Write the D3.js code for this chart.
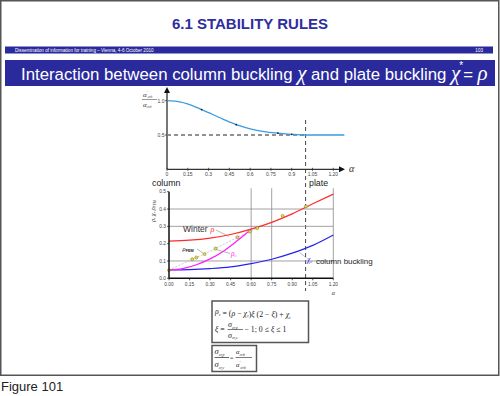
<!DOCTYPE html>
<html><head><meta charset="utf-8">
<script src="https://cdn.jsdelivr.net/npm/d3@7"></script>
<style>body{margin:0;background:#fff}svg{display:block}</style>
</head><body>
<script>
// ---- data ----
const topAlpha = [0,0.1,0.2,0.3,0.4,0.5,0.6,0.7,0.8,0.9,1.0,1.1,1.2,1.28];
const topRatio = [1.0,0.98,0.915,0.825,0.735,0.65,0.59,0.55,0.527,0.51,0.5,0.5,0.5,0.5];
const topDotAlpha = [0.25,0.5,0.8,0.9];
const topXTicks = [0,0.15,0.3,0.45,0.6,0.75,0.9,1.05,1.2];
const topXTickLabels = ["0","0.15","0.3","0.45","0.6","0.75","0.9","1.05","1.20"];
const topYTicks = [0.5,1.0];
const topYTickLabels = ["0.5","1.0"];

const botAlpha = [0,0.15,0.3,0.45,0.6,0.75,0.9,1.05,1.2];
const winterRho = [0.215,0.22,0.232,0.253,0.284,0.323,0.372,0.43,0.486];
const chiC = [0.048,0.05,0.056,0.066,0.085,0.11,0.145,0.19,0.25];
const rhoCAlpha = [0,0.1,0.2,0.3,0.4,0.5,0.55,0.6];
const rhoC = [0.048,0.056,0.078,0.112,0.158,0.218,0.25,0.284];
const femAlpha = [0,0.17,0.2,0.26,0.34,0.5,0.59,0.645,0.83,1.0];
const femRho = [0.047,0.11,0.12,0.14,0.172,0.237,0.27,0.29,0.36,0.415];
const botXTicks = [0,0.15,0.3,0.45,0.6,0.75,0.9,1.05,1.2];
const botXTickLabels = ["0.00","0.15","0.30","0.45","0.60","0.75","0.90","1.05","1.20"];
const botYTicks = [0,0.1,0.2,0.3,0.4,0.5];
const botYTickLabels = ["0.0","0.1","0.2","0.3","0.4","0.5"];
const botHGrid = [0.1,0.3,0.4];
const botVGrid = [0.6,0.75,1.2];

const W=500,H=396;
const svg=d3.select("body").append("svg").attr("width",W).attr("height",H);
const SANS="'Liberation Sans',Arial,sans-serif";
const SERIF="'Liberation Serif','Times New Roman',serif";
const BLUE="#2a2a9c";

// slide frame
svg.append("rect").attr("x",0.75).attr("y",0.75).attr("width",498).attr("height",374.5)
  .attr("fill","none").attr("stroke","#555").attr("stroke-width",1.5);
svg.append("text").attr("x",250).attr("y",28.5).attr("text-anchor","middle")
  .attr("font-family",SANS).attr("font-weight","bold").attr("font-size",15).attr("fill","#2e2ea0")
  .text("6.1 STABILITY RULES");
svg.append("rect").attr("x",5).attr("y",46.5).attr("width",488).attr("height",7).attr("fill",BLUE);
svg.append("text").attr("x",15).attr("y",51.8).attr("font-family",SANS).attr("font-size",4.6).attr("fill","#fff")
  .text("Dissemination of information for training – Vienna, 4-6 October 2010");
svg.append("text").attr("x",483).attr("y",51.8).attr("text-anchor","end").attr("font-family",SANS).attr("font-size",4.6).attr("fill","#fff").text("103");
svg.append("rect").attr("x",5).attr("y",60).attr("width",490).attr("height",26).attr("fill",BLUE);
const hd=svg.append("text").attr("x",21).attr("y",80).attr("font-family",SANS).attr("font-size",16.8).attr("fill","#fff");
hd.append("tspan").text("Interaction between column buckling ");
hd.append("tspan").attr("font-family",SERIF).attr("font-style","italic").attr("font-size",21).text("χ");
hd.append("tspan").text("  and plate buckling ");
hd.append("tspan").attr("font-family",SERIF).attr("font-style","italic").attr("font-size",21).text("χ");
hd.append("tspan").attr("dx",-1).attr("dy",-11).attr("font-size",10).text("*");
hd.append("tspan").attr("dy",11).text("= ");
hd.append("tspan").attr("font-family",SERIF).attr("font-style","italic").attr("font-size",21).text("ρ");

svg.append("text").attr("x",1).attr("y",391).attr("font-family",SANS).attr("font-size",13).attr("fill","#222").text("Figure 101");

// ---- top chart ----
const xT=d3.scaleLinear().domain([0,1.2]).range([167,333.3]);
const yT=d3.scaleLinear().domain([0,1]).range([169.3,100.7]);
const gT=svg.append("g");
gT.append("line").attr("x1",xT(0)).attr("x2",xT(1)).attr("y1",yT(0.5)).attr("y2",yT(0.5))
  .attr("stroke","#222").attr("stroke-width",1).attr("stroke-dasharray","4,3");
gT.append("line").attr("x1",xT(1)).attr("x2",xT(1)).attr("y1",120).attr("y2",291)
  .attr("stroke","#333").attr("stroke-width",0.9).attr("stroke-dasharray","4,3");
gT.append("path").datum(topAlpha.map((a,i)=>[a,topRatio[i]]))
  .attr("d",d3.line().x(d=>xT(d[0])).y(d=>yT(d[1])).curve(d3.curveMonotoneX))
  .attr("fill","none").attr("stroke","#3b9be0").attr("stroke-width",1.3);
const topInterp=a=>{for(let i=1;i<topAlpha.length;i++){if(a<=topAlpha[i]){const t=(a-topAlpha[i-1])/(topAlpha[i]-topAlpha[i-1]);return topRatio[i-1]+t*(topRatio[i]-topRatio[i-1]);}}return 0.5;};
gT.selectAll(".td").data(topDotAlpha).join("circle").attr("cx",d=>xT(d)).attr("cy",d=>yT(topInterp(d))).attr("r",0.9).attr("fill","#222");
gT.append("line").attr("x1",xT(0)).attr("x2",xT(0)).attr("y1",yT(0)).attr("y2",92)
  .attr("stroke","#777").attr("stroke-width",2);
gT.append("path").attr("d",`M${xT(0)-3},${93} L${xT(0)},${87} L${xT(0)+3},${93} Z`).attr("fill","#111");
gT.append("line").attr("x1",xT(0)).attr("x2",341).attr("y1",yT(0)).attr("y2",yT(0))
  .attr("stroke","#333").attr("stroke-width",1.3);
gT.append("path").attr("d",`M${339},${yT(0)-3} L${345},${yT(0)} L${339},${yT(0)+3} Z`).attr("fill","#111");
gT.selectAll(".xt").data(topXTicks).join("line").attr("x1",d=>xT(d)).attr("x2",d=>xT(d))
  .attr("y1",yT(0)-1.5).attr("y2",yT(0)+1.5).attr("stroke","#333").attr("stroke-width",0.8);
gT.selectAll(".xl").data(topXTicks).join("text").attr("x",d=>xT(d)).attr("y",yT(0)+7)
  .attr("text-anchor","middle").attr("font-family",SANS).attr("font-size",5).attr("fill","#444")
  .text((d,i)=>topXTickLabels[i]);
gT.selectAll(".yt").data(topYTicks).join("line").attr("x1",xT(0)-2).attr("x2",xT(0))
  .attr("y1",d=>yT(d)).attr("y2",d=>yT(d)).attr("stroke","#333").attr("stroke-width",0.8);
gT.selectAll(".yl").data(topYTicks).join("text").attr("x",xT(0)-2.5).attr("y",d=>yT(d)+1.8)
  .attr("text-anchor","end").attr("font-family",SANS).attr("font-size",5).attr("fill","#444")
  .text((d,i)=>topYTickLabels[i]);
gT.append("text").attr("x",349).attr("y",172).attr("font-family",SERIF).attr("font-style","italic").attr("font-size",10).attr("fill","#333").text("α");
const fr=gT.append("g").attr("font-family",SERIF).attr("font-style","italic").attr("fill","#333");
const n1=fr.append("text").attr("x",143).attr("y",97).attr("font-size",7);
n1.append("tspan").text("α");n1.append("tspan").attr("font-size",3.5).attr("dy",-3).text("'");n1.append("tspan").attr("font-size",3.5).attr("dy",4).text("crit");
fr.append("line").attr("x1",142).attr("x2",157).attr("y1",99.5).attr("y2",99.5).attr("stroke","#333").attr("stroke-width",0.5);
const d1=fr.append("text").attr("x",143).attr("y",107).attr("font-size",7);
d1.append("tspan").text("α");d1.append("tspan").attr("font-size",3.5).attr("dy",1).text("crit");

svg.append("text").attr("x",152).attr("y",186).attr("font-family",SANS).attr("font-size",8.8).attr("fill","#222").text("column");
svg.append("text").attr("x",309).attr("y",186).attr("font-family",SANS).attr("font-size",8.8).attr("fill","#222").text("plate");

// ---- bottom chart ----
const xB=d3.scaleLinear().domain([0,1.2]).range([169,333.3]);
const yB=d3.scaleLinear().domain([0,0.5]).range([278.3,191.7]);
const gB=svg.append("g");
gB.selectAll(".hg").data(botHGrid).join("line").attr("x1",xB(0)).attr("x2",xB(1.2))
  .attr("y1",d=>yB(d)).attr("y2",d=>yB(d)).attr("stroke","#8a8a8a").attr("stroke-width",0.8);
gB.selectAll(".vg").data(botVGrid).join("line").attr("x1",d=>xB(d)).attr("x2",d=>xB(d))
  .attr("y1",yB(0)).attr("y2",yB(0.52)).attr("stroke","#8a8a8a").attr("stroke-width",0.8);
const lineB=d3.line().x(d=>xB(d[0])).y(d=>yB(d[1])).curve(d3.curveMonotoneX);
gB.append("path").datum(femAlpha.map((a,i)=>[a,femRho[i]]).slice(0,8))
  .attr("d",d3.line().x(d=>xB(d[0])).y(d=>yB(d[1]))).attr("fill","none").attr("stroke","#bbb").attr("stroke-width",0.8).attr("stroke-dasharray","2,1.5");
gB.append("path").datum(botAlpha.map((a,i)=>[a,winterRho[i]])).attr("d",lineB)
  .attr("fill","none").attr("stroke","#ff2a2a").attr("stroke-width",1.2);
gB.append("path").datum(botAlpha.map((a,i)=>[a,chiC[i]])).attr("d",lineB)
  .attr("fill","none").attr("stroke","#2424ee").attr("stroke-width",1.2);
gB.append("path").datum(rhoCAlpha.map((a,i)=>[a,rhoC[i]])).attr("d",lineB)
  .attr("fill","none").attr("stroke","#ff1aff").attr("stroke-width",1.2);
gB.selectAll(".fem").data(femAlpha.map((a,i)=>[a,femRho[i]])).join("circle")
  .attr("cx",d=>xB(d[0])).attr("cy",d=>yB(d[1])).attr("r",1.5)
  .attr("fill","#e8e040").attr("stroke","#6a6a20").attr("stroke-width",0.5);
gB.append("line").attr("x1",xB(0)).attr("x2",xB(0)).attr("y1",yB(0)).attr("y2",yB(0.5))
  .attr("stroke","#111").attr("stroke-width",1.5);
gB.append("line").attr("x1",xB(0)).attr("x2",xB(1.2)).attr("y1",yB(0)).attr("y2",yB(0))
  .attr("stroke","#111").attr("stroke-width",1.5);
gB.selectAll(".xt").data(botXTicks).join("line").attr("x1",d=>xB(d)).attr("x2",d=>xB(d))
  .attr("y1",yB(0)).attr("y2",yB(0)+2).attr("stroke","#111").attr("stroke-width",0.7);
gB.selectAll(".xl").data(botXTicks).join("text").attr("x",d=>xB(d)).attr("y",yB(0)+8)
  .attr("text-anchor","middle").attr("font-family",SANS).attr("font-size",4.8).attr("fill","#444")
  .text((d,i)=>botXTickLabels[i]);
gB.selectAll(".yt").data(botYTicks).join("line").attr("x1",xB(0)-2).attr("x2",xB(0))
  .attr("y1",d=>yB(d)).attr("y2",d=>yB(d)).attr("stroke","#111").attr("stroke-width",0.7);
gB.selectAll(".yl").data(botYTicks).join("text").attr("x",xB(0)-3).attr("y",d=>yB(d)+1.7)
  .attr("text-anchor","end").attr("font-family",SANS).attr("font-size",4.8).attr("fill","#444")
  .text((d,i)=>botYTickLabels[i]);
gB.append("text").attr("x",xB(1.2)).attr("y",295).attr("text-anchor","middle").attr("font-family",SERIF).attr("font-style","italic").attr("font-size",6).attr("fill","#333").text("α");
const yl=gB.append("text").attr("transform","translate(155,211) rotate(-90)").attr("text-anchor","middle")
  .attr("font-family",SERIF).attr("font-style","italic").attr("font-size",6).attr("fill","#333");
yl.append("tspan").text("ρ, χ, ρ");yl.append("tspan").attr("font-size",3.5).attr("dy",1).text("FEM");

const lead=(x1,y1,x2,y2)=>gB.append("line").attr("x1",x1).attr("y1",y1).attr("x2",x2).attr("y2",y2).attr("stroke","#888").attr("stroke-width",0.6);
gB.append("text").attr("x",183).attr("y",231.5).attr("font-family",SANS).attr("font-size",8.5).attr("fill","#333").text("Winter");
gB.append("text").attr("x",210.5).attr("y",231.5).attr("font-family",SERIF).attr("font-style","italic").attr("font-size",8).attr("fill","#ff2a2a").text("ρ");
lead(216,230,229,236.5);
const pf=gB.append("text").attr("x",182.5).attr("y",251).attr("font-family",SERIF).attr("font-style","italic").attr("font-size",6.5).attr("fill","#222");
pf.append("tspan").text("ρ");pf.append("tspan").attr("font-family",SANS).attr("font-style","normal").attr("font-weight","bold").attr("font-size",3.8).attr("dy",0.5).text("FEM");
lead(197,249,203,253);
const pc=gB.append("text").attr("x",231).attr("y",256).attr("font-family",SERIF).attr("font-style","italic").attr("font-size",7.5).attr("fill","#ff1aff");
pc.append("tspan").text("ρ");pc.append("tspan").attr("font-size",4.5).attr("dy",1).text("c");
lead(216,249.5,230,253.5);
const cc=gB.append("text").attr("x",307).attr("y",262).attr("font-family",SERIF).attr("font-style","italic").attr("font-size",7.5).attr("fill","#2424ee");
cc.append("tspan").text("χ");cc.append("tspan").attr("font-size",4.5).attr("dy",1).text("c");
lead(299.5,252.5,306.5,258);
gB.append("text").attr("x",316).attr("y",263.5).attr("font-family",SANS).attr("font-size",7.9).attr("fill","#222").text("column buckling");

// ---- formula boxes ----
const fb=svg.append("g").attr("font-family",SERIF).attr("font-style","italic").attr("fill","#222");
fb.append("rect").attr("x",212).attr("y",301).attr("width",96.5).attr("height",41.5).attr("fill","#fff").attr("stroke","#555").attr("stroke-width",1.5);
fb.append("rect").attr("x",212).attr("y",345.5).attr("width",44.5).attr("height",26).attr("fill","#fff").attr("stroke","#555").attr("stroke-width",1.5);
const sub=(t,s)=>{t.append("tspan").attr("font-size",4).attr("dy",1.5).text(s);t.append("tspan").attr("dy",-1.5).text("");};
const f1=fb.append("text").attr("x",215).attr("y",314).attr("font-size",7.8);
f1.append("tspan").text("ρ");sub(f1,"c");f1.append("tspan").attr("font-style","normal").text(" = (");f1.append("tspan").text("ρ");
f1.append("tspan").attr("font-style","normal").text(" − ");f1.append("tspan").text("χ");sub(f1,"c");
f1.append("tspan").attr("font-style","normal").text(")");f1.append("tspan").text("ξ");f1.append("tspan").attr("font-style","normal").text(" (2 − ");
f1.append("tspan").text("ξ");f1.append("tspan").attr("font-style","normal").text(") + ");f1.append("tspan").text("χ");sub(f1,"c");
const f2=fb.append("text").attr("x",215).attr("y",331.5).attr("font-size",7.8);
f2.append("tspan").text("ξ");f2.append("tspan").attr("font-style","normal").text(" =");
const fn=fb.append("text").attr("x",228).attr("y",327).attr("font-size",8);fn.append("tspan").text("σ");sub(fn,"cr,p");
fb.append("line").attr("x1",227.5).attr("x2",243).attr("y1",329.5).attr("y2",329.5).attr("stroke","#222").attr("stroke-width",0.6);
const fd=fb.append("text").attr("x",228).attr("y",337.5).attr("font-size",8);fd.append("tspan").text("σ");sub(fd,"cr,c");
const f3=fb.append("text").attr("x",244.5).attr("y",331.5).attr("font-size",7.8);
f3.append("tspan").attr("font-style","normal").text("− 1;  0 ≤ ");f3.append("tspan").text("ξ");f3.append("tspan").attr("font-style","normal").text(" ≤ 1");
const g1=fb.append("text").attr("x",214.5).attr("y",354).attr("font-size",8.5);g1.append("tspan").text("σ");sub(g1,"cr,p");
fb.append("line").attr("x1",214.5).attr("x2",229).attr("y1",357.5).attr("y2",357.5).attr("stroke","#222").attr("stroke-width",0.7);
const g2=fb.append("text").attr("x",214.5).attr("y",367).attr("font-size",8.5);g2.append("tspan").text("σ");sub(g2,"cr,c");
fb.append("text").attr("x",230).attr("y",360).attr("font-size",6).attr("font-style","normal").text("=");
const g3=fb.append("text").attr("x",236).attr("y",354).attr("font-size",6.5);g3.append("tspan").text("α");sub(g3,"crit");
fb.append("line").attr("x1",235.5).attr("x2",252).attr("y1",357.5).attr("y2",357.5).attr("stroke","#222").attr("stroke-width",0.6);
const g4=fb.append("text").attr("x",236).attr("y",367).attr("font-size",6.5);g4.append("tspan").text("α");
g4.append("tspan").attr("font-size",3.5).attr("dy",-3).text("'");g4.append("tspan").attr("font-size",4).attr("dy",4.5).text("crit");
</script>
</body></html>
